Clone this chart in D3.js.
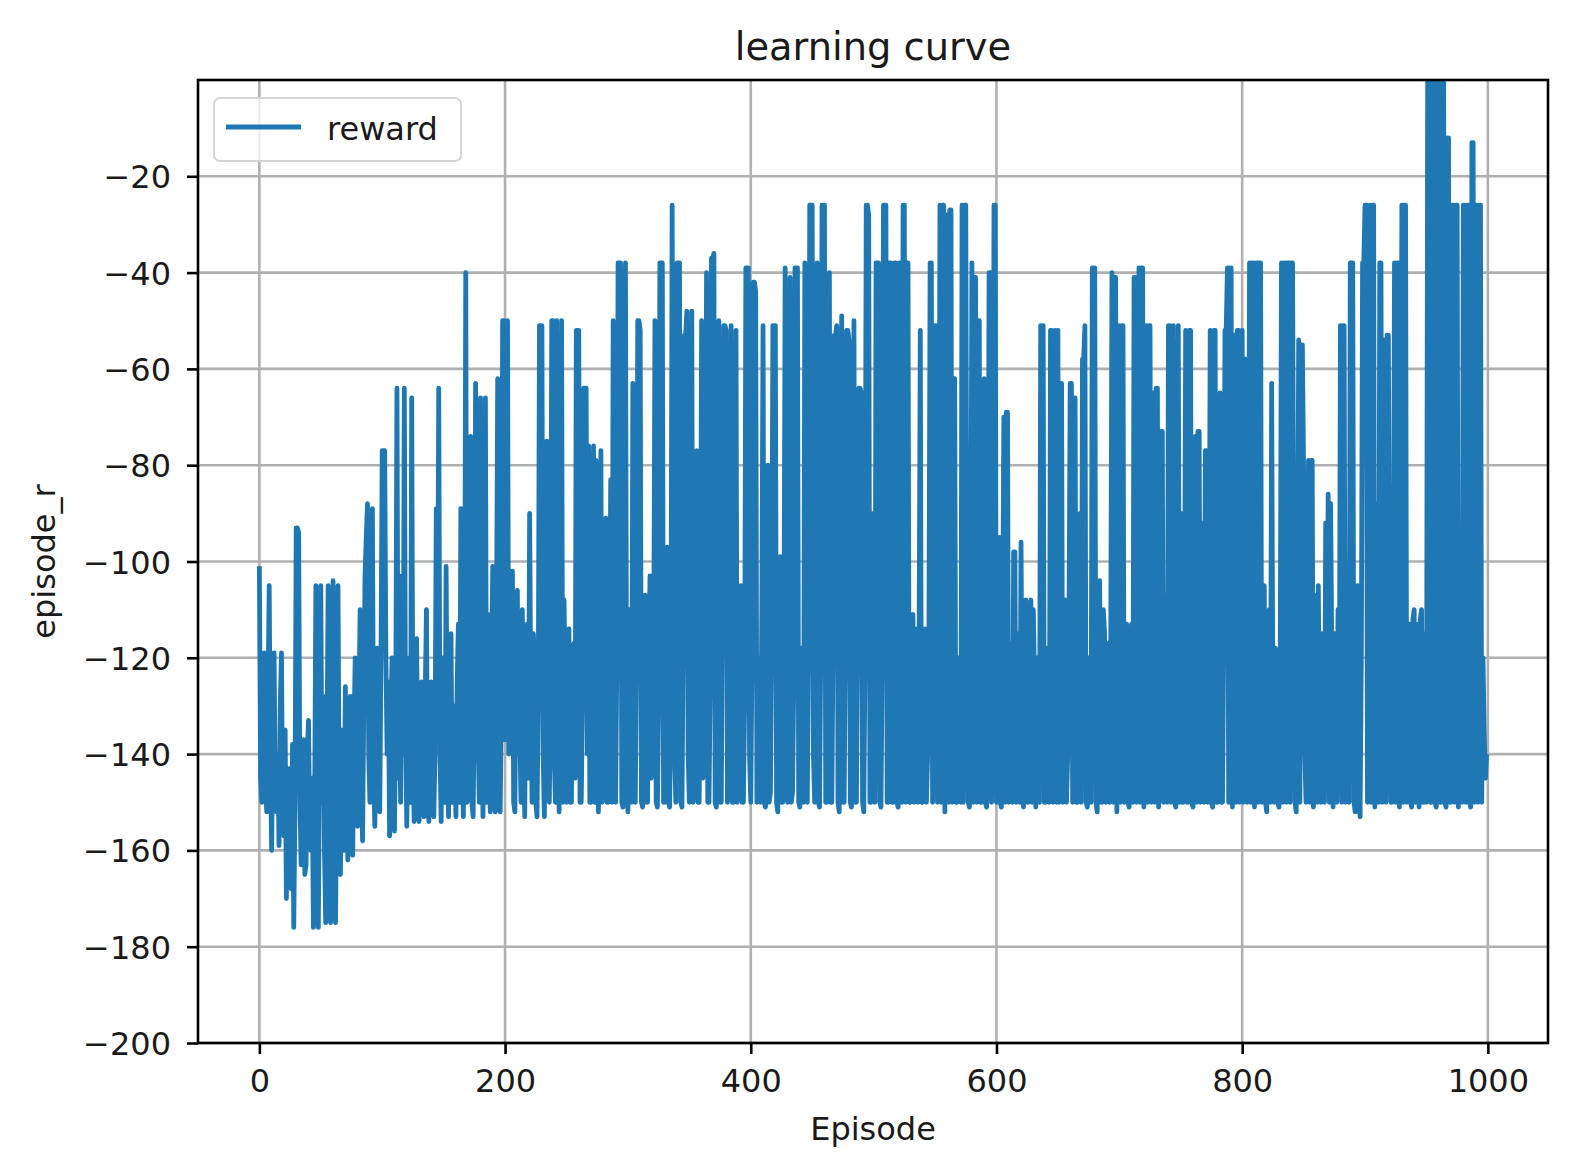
<!DOCTYPE html>
<html>
<head>
<meta charset="utf-8">
<script src="https://cdn.jsdelivr.net/npm/d3@7"></script>
<style>
  html, body { margin: 0; padding: 0; background: #fff; overflow: hidden; width: 100%; height: 100%; }
  svg { display: block; }
  text { font-family: "DejaVu Sans", sans-serif; fill: #1a1a1a; }
</style>
</head>
<body>
<svg id="chart"></svg>
<script>
// episode reward per episode, 50 episodes per row
const rewards = [
  -101, -145, -150, -126, -119, -147, -152, -130, -105, -142, -160, -135, -119, -150, -152, -140, -159, -130, -119, -155, -157, -135, -170, -145, -143, -165, -168, -138, -176, -150, -93, -93, -94, -150, -163, -145, -137, -165, -163, -140, -133, -158, -160, -145, -176, -150, -105, -160, -176, -140,
  -105, -150, -128, -160, -175, -140, -105, -165, -175, -135, -104, -160, -175, -145, -105, -150, -165, -135, -140, -160, -126, -150, -162, -140, -128, -158, -161, -135, -120, -150, -155, -132, -110, -145, -158, -130, -103, -95, -88, -140, -150, -125, -89, -145, -155, -130, -118, -148, -152, -120,
  -77, -77, -77, -120, -140, -125, -157, -135, -120, -150, -156, -130, -64, -145, -130, -150, -103, -140, -64, -135, -155, -128, -120, -150, -66, -140, -154, -130, -116, -150, -154, -135, -125, -150, -153, -128, -110, -148, -154, -132, -125, -150, -153, -140, -89, -130, -64, -140, -154, -120,
  -130, -150, -101, -140, -153, -128, -115, -150, -130, -140, -153, -125, -113, -150, -89, -130, -153, -135, -40, -150, -145, -125, -74, -150, -153, -130, -63, -140, -135, -150, -66, -130, -153, -125, -66, -150, -111, -138, -152, -120, -101, -145, -152, -115, -62, -150, -152, -130, -50, -50,
  -137, -120, -50, -140, -138, -125, -102, -150, -152, -118, -106, -140, -135, -150, -110, -130, -153, -118, -113, -145, -90, -130, -150, -115, -120, -150, -153, -130, -51, -51, -51, -140, -153, -120, -75, -145, -150, -130, -50, -50, -140, -150, -50, -135, -152, -120, -50, -150, -108, -125,
  -150, -125, -114, -150, -150, -120, -117, -145, -52, -52, -52, -150, -150, -130, -64, -64, -64, -140, -76, -150, -150, -115, -76, -150, -79, -130, -152, -120, -77, -150, -138, -118, -91, -150, -150, -125, -83, -150, -50, -140, -150, -120, -38, -38, -38, -150, -151, -115, -38, -140,
  -152, -110, -120, -150, -63, -130, -150, -120, -50, -50, -52, -150, -151, -125, -107, -150, -150, -118, -103, -145, -140, -120, -50, -150, -151, -130, -38, -38, -38, -150, -150, -120, -97, -150, -151, -125, -26, -130, -140, -150, -38, -38, -38, -150, -151, -118, -53, -53, -48, -140,
  -150, -118, -48, -150, -141, -120, -77, -150, -150, -115, -50, -145, -140, -120, -40, -150, -150, -125, -37, -37, -36, -150, -151, -120, -50, -150, -150, -110, -51, -51, -52, -150, -148, -120, -51, -150, -150, -125, -52, -150, -147, -118, -105, -150, -150, -130, -39, -39, -39, -140,
  -150, -120, -42, -42, -44, -150, -140, -120, -150, -110, -51, -150, -151, -125, -80, -150, -148, -118, -51, -51, -51, -150, -152, -120, -99, -150, -150, -115, -39, -140, -150, -120, -41, -150, -148, -125, -39, -39, -39, -150, -151, -118, -140, -150, -38, -130, -150, -120, -26, -26,
  -26, -140, -150, -120, -38, -150, -151, -118, -26, -26, -26, -150, -150, -125, -40, -150, -150, -115, -53, -53, -51, -150, -152, -120, -49, -150, -150, -118, -52, -52, -54, -150, -151, -125, -50, -150, -150, -115, -64, -64, -65, -150, -152, -120, -26, -26, -28, -150, -150, -120,
  -90, -150, -38, -38, -38, -150, -151, -120, -26, -26, -26, -150, -150, -38, -38, -150, -150, -38, -38, -150, -151, -38, -38, -150, -26, -26, -150, -38, -38, -150, -150, -120, -111, -150, -114, -125, -150, -118, -52, -150, -150, -120, -114, -150, -140, -118, -38, -38, -150, -120,
  -51, -51, -150, -120, -26, -150, -26, -26, -152, -28, -28, -150, -27, -27, -150, -118, -62, -150, -150, -120, -140, -150, -26, -150, -26, -26, -110, -150, -151, -120, -38, -150, -41, -41, -150, -120, -50, -150, -150, -115, -62, -150, -151, -120, -40, -40, -150, -125, -26, -26,
  -150, -120, -95, -150, -151, -115, -70, -150, -69, -69, -150, -120, -117, -150, -98, -98, -150, -115, -130, -150, -96, -140, -151, -115, -108, -150, -150, -118, -108, -150, -110, -125, -151, -120, -140, -150, -51, -51, -51, -150, -150, -120, -118, -150, -52, -52, -150, -115, -52, -150,
  -52, -150, -63, -63, -150, -120, -108, -150, -140, -115, -63, -63, -150, -118, -66, -150, -150, -125, -90, -150, -58, -58, -51, -150, -151, -120, -130, -150, -39, -39, -39, -150, -152, -120, -104, -150, -150, -110, -115, -150, -117, -140, -150, -120, -40, -150, -41, -41, -152, -118,
  -51, -150, -51, -51, -150, -120, -113, -150, -151, -118, -113, -150, -41, -41, -150, -120, -39, -150, -39, -39, -151, -120, -51, -150, -51, -51, -150, -118, -65, -150, -64, -64, -151, -120, -73, -73, -150, -120, -107, -150, -51, -51, -150, -118, -51, -150, -151, -120, -51, -150,
  -90, -150, -150, -118, -52, -150, -150, -52, -52, -150, -151, -120, -74, -150, -73, -73, -150, -118, -92, -150, -77, -77, -150, -120, -52, -150, -151, -52, -52, -150, -150, -120, -65, -150, -150, -115, -52, -52, -39, -150, -39, -39, -151, -120, -53, -150, -52, -52, -150, -120,
  -52, -150, -58, -58, -150, -120, -38, -150, -38, -38, -151, -38, -38, -150, -38, -38, -150, -120, -105, -150, -152, -118, -110, -150, -63, -130, -150, -118, -120, -150, -151, -120, -38, -150, -38, -38, -150, -38, -38, -150, -38, -38, -100, -150, -152, -118, -54, -150, -55, -55,
  -81, -140, -150, -118, -79, -150, -79, -79, -151, -120, -107, -150, -105, -140, -150, -115, -130, -150, -92, -130, -86, -150, -88, -120, -151, -115, -123, -150, -110, -140, -51, -150, -51, -51, -150, -118, -112, -150, -38, -38, -38, -150, -152, -120, -105, -150, -153, -120, -38, -38,
  -26, -26, -150, -120, -26, -150, -26, -26, -151, -120, -88, -150, -38, -38, -150, -120, -54, -150, -53, -53, -116, -150, -150, -118, -38, -150, -38, -38, -151, -120, -26, -150, -26, -26, -150, -118, -113, -150, -151, -112, -110, -150, -113, -140, -151, -112, -110, -150, -150, -115,
  -150, 0, 0, -150, -150, 0, 0, -150, -151, 0, 0, -150, -150, 0, 0, -150, -151, -12, -12, -150, -150, -26, -26, -150, -26, -26, -151, -120, -130, -150, -26, -26, -150, -26, -26, -150, -151, -13, -13, -150, -26, -26, -150, -26, -26, -150, -120, -135, -145, -140
];
const xTicks = [0, 200, 400, 600, 800, 1000];
const yTicks = [-200, -180, -160, -140, -120, -100, -80, -60, -40, -20];
const seriesNames = ["reward"];

const W = 1575, H = 1173;
const margin = { top: 80, right: 27, bottom: 130, left: 198 };
const width = W - margin.left - margin.right;
const height = H - margin.top - margin.bottom;
const blue = "#1f77b4";

const data = rewards.map((r, i) => ({ ep: i, r: r }));

const x = d3.scaleLinear()
    .domain([-49.95, 1048.95])
    .range([0, width]);

const y = d3.scaleLinear()
    .domain([-200, 0])
    .range([height, 0]);

const fmt = d => d < 0 ? "\u2212" + Math.abs(d) : String(d);

const svg = d3.select("#chart")
    .attr("viewBox", `0 0 ${W} ${H}`)
    .attr("preserveAspectRatio", "none")
    .style("width", "100vw")
    .style("height", "100vh");

svg.append("rect").attr("width", W).attr("height", H).attr("fill", "#fff");

const g = svg.append("g")
    .attr("transform", `translate(${margin.left},${margin.top})`);

g.append("defs").append("clipPath").attr("id", "plot-clip")
  .append("rect").attr("width", width).attr("height", height);

// grid
g.append("g").selectAll("line").data(xTicks).join("line")
    .attr("x1", d => x(d)).attr("x2", d => x(d))
    .attr("y1", 0).attr("y2", height)
    .attr("stroke", "#b0b0b0").attr("stroke-width", 2.6);

g.append("g").selectAll("line").data(yTicks).join("line")
    .attr("x1", 0).attr("x2", width)
    .attr("y1", d => y(d)).attr("y2", d => y(d))
    .attr("stroke", "#b0b0b0").attr("stroke-width", 2.6);

const line = d3.line()
    .x(d => x(d.ep))
    .y(d => y(d.r));

g.append("path")
    .datum(data)
    .attr("clip-path", "url(#plot-clip)")
    .attr("fill", "none")
    .attr("stroke", blue)
    .attr("stroke-width", 4.8)
    .attr("stroke-linejoin", "round")
    .attr("d", line);

// axes
const xAxis = g.append("g")
    .attr("transform", `translate(0,${height})`)
    .call(d3.axisBottom(x).tickValues(xTicks).tickFormat(fmt)
        .tickSize(11).tickSizeOuter(0).tickPadding(15));

const yAxis = g.append("g")
    .call(d3.axisLeft(y).tickValues(yTicks).tickFormat(fmt)
        .tickSize(11).tickSizeOuter(0).tickPadding(16));

[xAxis, yAxis].forEach(a => {
  a.select(".domain").remove();
  a.selectAll(".tick line").attr("stroke", "#000").attr("stroke-width", 2.6);
  a.selectAll(".tick text")
    .attr("font-family", "DejaVu Sans")
    .attr("font-size", 32)
    .attr("fill", "#1a1a1a");
});
yAxis.selectAll(".tick text").attr("dy", "0.36em");

g.append("rect")
    .attr("width", width).attr("height", height)
    .attr("fill", "none")
    .attr("stroke", "#000")
    .attr("stroke-width", 2.6);

// legend
const legend = g.append("g").attr("transform", "translate(16,18)");
legend.append("rect")
    .attr("width", 247).attr("height", 63)
    .attr("rx", 6).attr("ry", 6)
    .attr("fill", "#fff").attr("fill-opacity", 0.8)
    .attr("stroke", "#d6d6d6").attr("stroke-width", 2);
legend.selectAll("line").data(seriesNames).join("line")
    .attr("x1", 12).attr("x2", 87)
    .attr("y1", 29).attr("y2", 29)
    .attr("stroke", blue).attr("stroke-width", 4.8);
legend.selectAll("text").data(seriesNames).join("text")
    .attr("x", 113).attr("y", 42)
    .attr("font-size", 32)
    .text(d => d);

// labels
svg.append("text")
    .attr("x", margin.left + width / 2).attr("y", 60)
    .attr("text-anchor", "middle")
    .attr("font-size", 38.4)
    .text("learning curve");

svg.append("text")
    .attr("x", margin.left + width / 2).attr("y", 1140)
    .attr("text-anchor", "middle")
    .attr("font-size", 32)
    .text("Episode");

svg.append("text")
    .attr("transform", `translate(55,${margin.top + height / 2}) rotate(-90)`)
    .attr("text-anchor", "middle")
    .attr("font-size", 32)
    .text("episode_r");
</script>
</body>
</html>
